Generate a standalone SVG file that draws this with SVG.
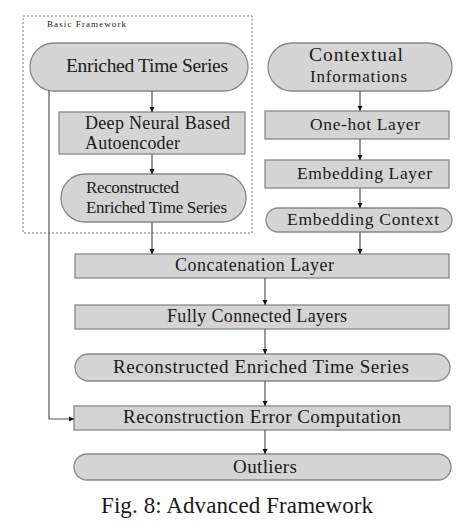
<svg xmlns="http://www.w3.org/2000/svg" width="474" height="530" viewBox="0 0 474 530">
<style>
.n{fill:#d4d4d4;stroke:#888;stroke-width:1.3}
.t{font-family:"Liberation Serif","DejaVu Serif",serif;fill:#1a1a1a}
.c{stroke:#555;stroke-width:1.2;fill:none}
</style>
<defs>
<marker id="a" markerWidth="6" markerHeight="6" refX="5" refY="3" orient="auto" markerUnits="userSpaceOnUse">
<path d="M0,0.5 L5,3 L0,5.5 Z" fill="#111"/>
</marker>
</defs>
<rect width="474" height="530" fill="#fff"/>
<g id="basic-framework">
<rect x="23" y="16" width="229" height="217" fill="none" stroke="#777" stroke-width="1" stroke-dasharray="2,2"/>
<text class="t" x="47" y="27" font-size="9" textLength="79">Basic Framework</text>
</g>
<g id="enriched">
<rect class="n" x="30" y="43" width="218" height="48" rx="24"/>
<text class="t" x="66" y="72" font-size="19.5" textLength="162">Enriched Time Series</text>
</g>
<g id="autoencoder">
<rect class="n" x="59" y="112" width="186" height="42"/>
<text class="t" x="85" y="129" font-size="18" textLength="145">Deep Neural Based</text>
<text class="t" x="85" y="149" font-size="18" textLength="95">Autoencoder</text>
</g>
<g id="reconstructed-basic">
<rect class="n" x="61" y="174" width="185" height="48" rx="24"/>
<text class="t" x="86" y="193" font-size="17" textLength="93">Reconstructed</text>
<text class="t" x="86" y="213" font-size="17" textLength="141">Enriched Time Series</text>
</g>
<g id="contextual">
<rect class="n" x="268" y="43" width="184" height="48" rx="24"/>
<text class="t" x="309" y="61" font-size="19.5" textLength="94">Contextual</text>
<text class="t" x="310" y="82" font-size="17" textLength="97">Informations</text>
</g>
<g id="onehot">
<rect class="n" x="265" y="111" width="184" height="28"/>
<text class="t" x="310" y="130" font-size="17.5" textLength="110">One-hot Layer</text>
</g>
<g id="embedding-layer">
<rect class="n" x="265" y="160" width="184" height="28"/>
<text class="t" x="297" y="179" font-size="17.5" textLength="135">Embedding Layer</text>
</g>
<g id="embedding-context">
<rect class="n" x="266" y="208" width="186" height="24" rx="12"/>
<text class="t" x="287" y="225" font-size="17.5" textLength="152">Embedding Context</text>
</g>
<g id="concatenation">
<rect class="n" x="75" y="254" width="374" height="24"/>
<text class="t" x="175" y="271" font-size="18" textLength="159">Concatenation Layer</text>
</g>
<g id="fully-connected">
<rect class="n" x="75" y="305" width="374" height="24"/>
<text class="t" x="167" y="322" font-size="18" textLength="180">Fully Connected Layers</text>
</g>
<g id="reconstructed-advanced">
<rect class="n" x="75" y="354" width="375" height="27" rx="13.5"/>
<text class="t" x="113" y="373" font-size="19" textLength="296">Reconstructed Enriched Time Series</text>
</g>
<g id="error">
<rect class="n" x="74" y="406" width="376" height="24"/>
<text class="t" x="123" y="423" font-size="19" textLength="278">Reconstruction Error Computation</text>
</g>
<g id="outliers">
<rect class="n" x="74" y="454" width="377" height="26" rx="13"/>
<text class="t" x="233" y="473" font-size="19" textLength="64">Outliers</text>
</g>
<g id="connectors">
<line class="c" x1="152" y1="91" x2="152" y2="112" marker-end="url(#a)"/>
<line class="c" x1="152" y1="154" x2="152" y2="174" marker-end="url(#a)"/>
<line class="c" x1="152" y1="222" x2="152" y2="254" marker-end="url(#a)"/>
<line class="c" x1="360" y1="91" x2="360" y2="111" marker-end="url(#a)"/>
<line class="c" x1="360" y1="139" x2="360" y2="160" marker-end="url(#a)"/>
<line class="c" x1="360" y1="188" x2="360" y2="208" marker-end="url(#a)"/>
<line class="c" x1="360" y1="232" x2="360" y2="254" marker-end="url(#a)"/>
<line class="c" x1="265" y1="278" x2="265" y2="305" marker-end="url(#a)"/>
<line class="c" x1="265" y1="329" x2="265" y2="354" marker-end="url(#a)"/>
<line class="c" x1="265" y1="381" x2="265" y2="406" marker-end="url(#a)"/>
<line class="c" x1="265" y1="430" x2="265" y2="454" marker-end="url(#a)"/>
<path class="c" d="M49,90 V419 H74" marker-end="url(#a)"/>
</g>
<text class="t" x="101" y="513" font-size="23" textLength="272">Fig. 8: Advanced Framework</text>
</svg>
